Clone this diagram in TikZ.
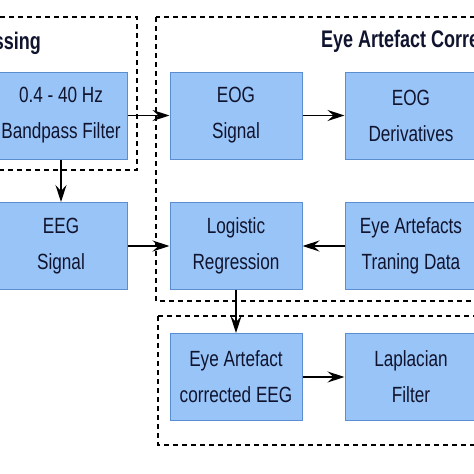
\documentclass[tikz,border=0pt]{standalone}
\usepackage{fontspec}
\setmainfont{Liberation Sans}[FakeStretch=0.78]
\newfontfamily\titlefont{Liberation Sans}[FakeStretch=0.75]
\usetikzlibrary{arrows.meta}
\definecolor{boxfill}{HTML}{99C4F7}
\definecolor{boxline}{HTML}{5A8ED0}
\definecolor{txt}{HTML}{10142E}
\tikzset{
  blockbox/.style={draw=boxline, fill=boxfill, line width=1pt, minimum width=132pt, minimum height=87pt, inner sep=0pt, align=center, text=txt, font=\fontsize{22}{36}\selectfont},
  groupbox/.style={draw=black, line width=1.4pt, dash pattern=on 5pt off 4pt},
  flow/.style={line width=1.3pt, -{Stealth[length=17pt, width=11pt, inset=6pt]}},
  grouptitle/.style={text=txt, font=\titlefont\bfseries\fontsize{24}{28}\selectfont, inner sep=0pt}
}
\begin{document}
\begin{tikzpicture}[x=1pt, y=-1pt]
\useasboundingbox (0,0) rectangle (474,474);
\clip (0,0) rectangle (474,474);
\fill[white] (0,0) rectangle (474,474);
% group frames
\draw[groupbox] (-10,17) rectangle (137,170);
\draw[groupbox] (156,17) rectangle (495,301);
\draw[groupbox] (158,316) rectangle (495,445);
\node[grouptitle, anchor=base east] (t1) at (41,49) {Preprocessing};
\node[grouptitle, anchor=base west] (t2) at (321,47) {Eye Artefact Correction};
% blocks
\node[blockbox] (bp) at (61,115.5) {0.4 - 40 Hz\\Bandpass Filter};
\node[blockbox] (eeg) at (61,246) {EEG\\Signal};
\node[blockbox] (eogs) at (236,115.5) {EOG\\Signal};
\node[blockbox] (eogd) at (411,115.5) {EOG\\Derivatives};
\node[blockbox] (lr) at (236,246) {Logistic\\Regression};
\node[blockbox] (train) at (411,246) {Eye Artefacts\\Traning Data};
\node[blockbox] (corr) at (236,377) {Eye Artefact\\corrected EEG};
\node[blockbox] (lap) at (411,377) {Laplacian\\Filter};
% connectors
\draw[flow] (bp.east) -- (eogs.west);
\draw[flow] (bp.south) -- (eeg.north);
\draw[flow] (eogs.east) -- (eogd.west);
\draw[flow] (eeg.east) -- (lr.west);
\draw[flow] (train.west) -- (lr.east);
\draw[flow] (lr.south) -- (corr.north);
\draw[flow] (corr.east) -- (lap.west);
\end{tikzpicture}
\end{document}
